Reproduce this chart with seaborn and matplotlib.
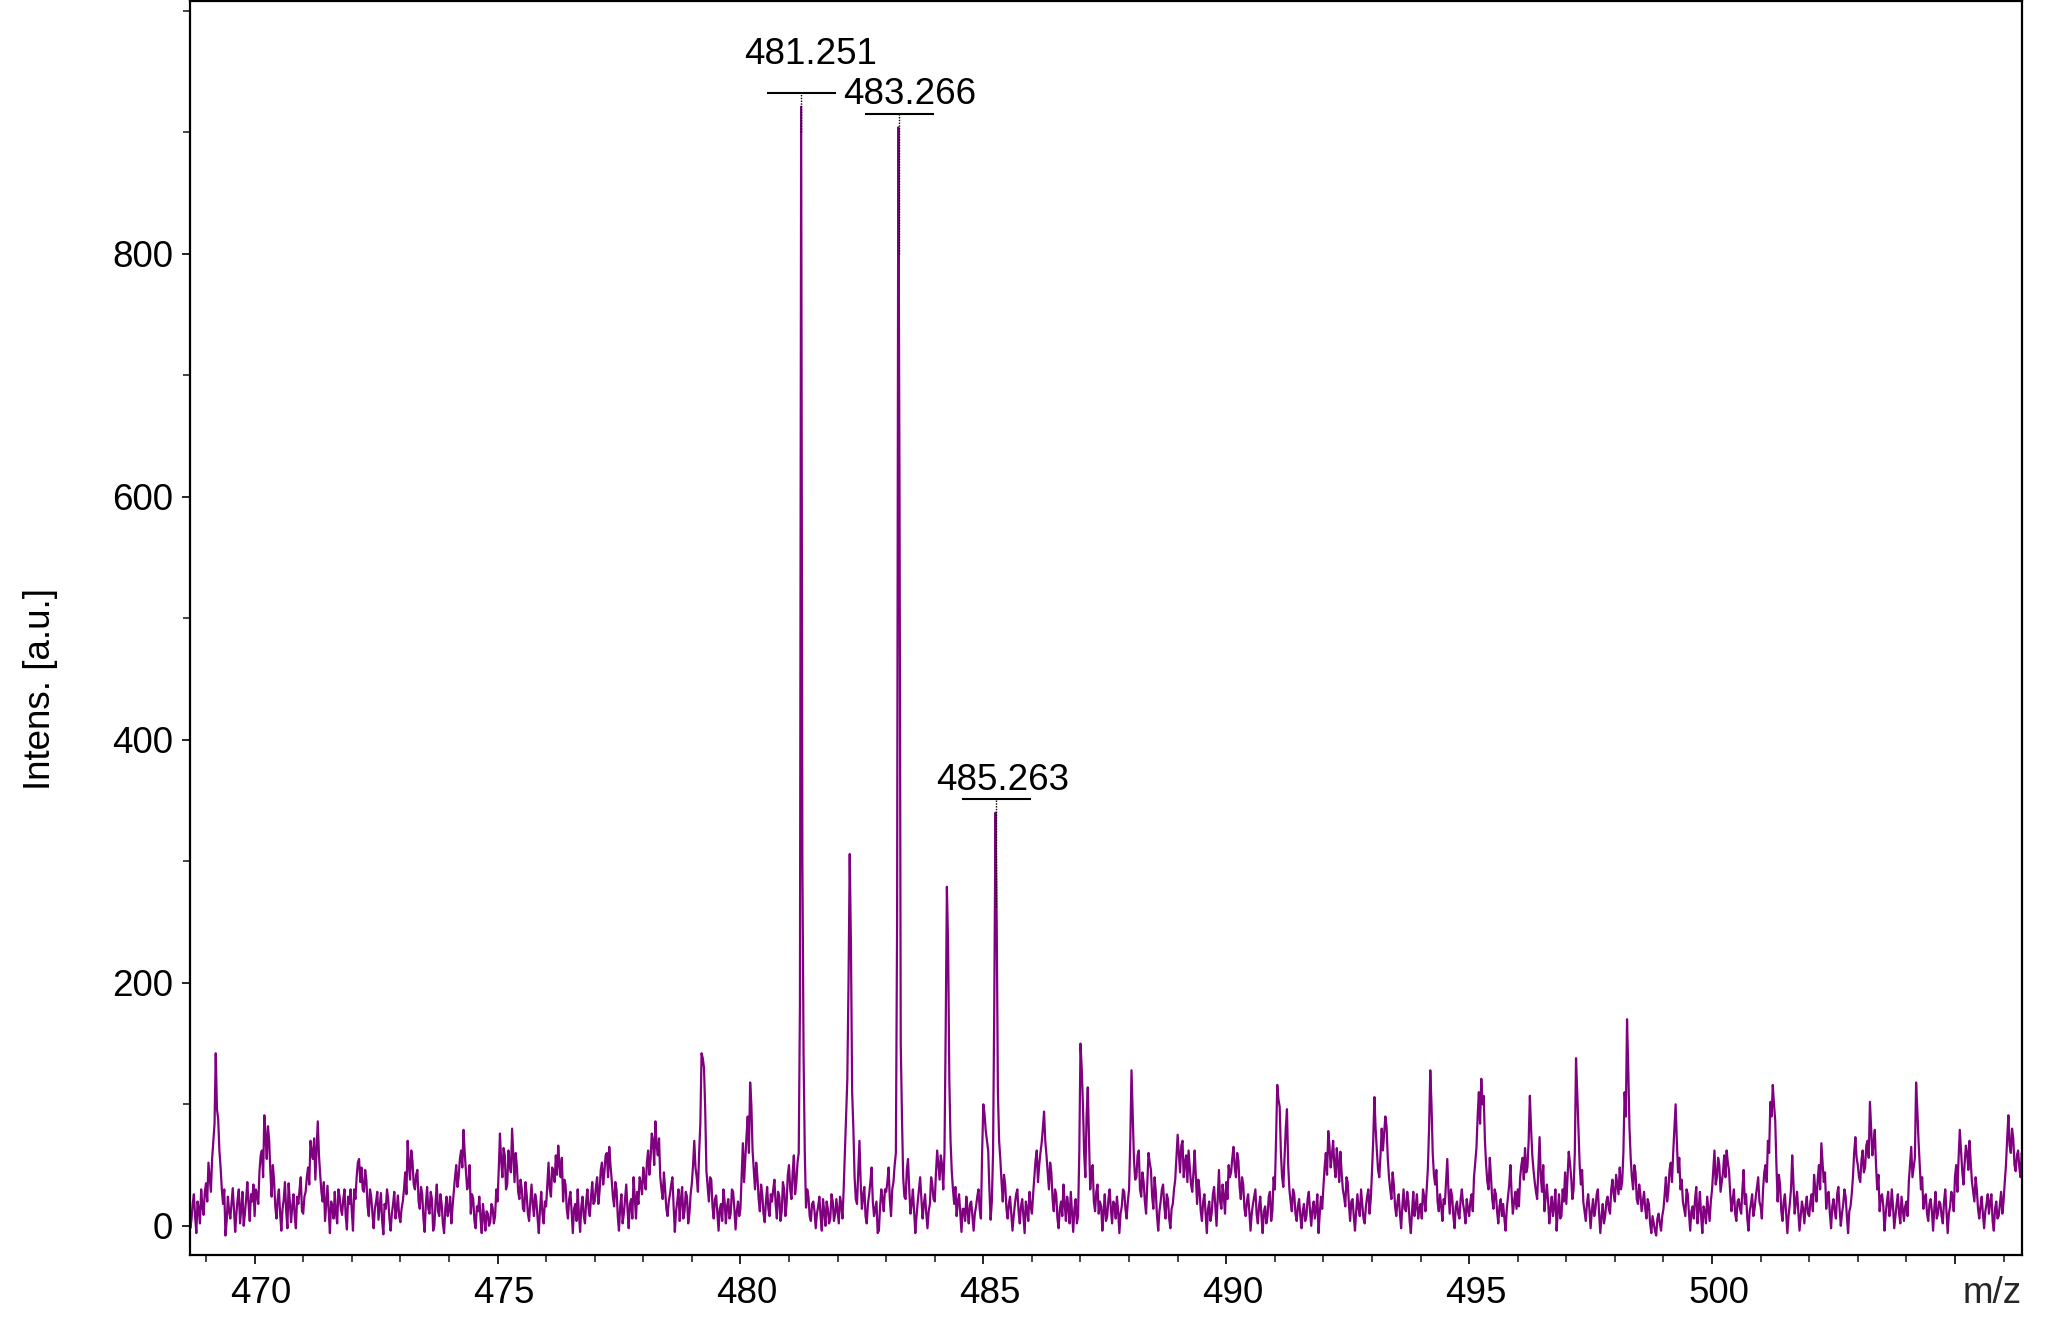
import numpy as np
import pandas as pd
import matplotlib.pyplot as plt
import matplotlib.transforms as mtrans
import seaborn as sns
from matplotlib.ticker import MultipleLocator, FixedLocator, FixedFormatter

# ---- Espectro: lecturas en m/z 468.65 .. 506.40 (paso 0.05) ----
MZ_START = 468.65
MZ_STEP = 0.05
INTENS = [
    22, 5, 26, -6, 14, 30, 9,
    35, 52, 28, 70, 142, 88, 48, 18, -8, 24, 6, 31, -5, 22, 2, 28, 10, 36, 4, 20,          # 469
    8, 26, 45, 62, 91, 55, 70, 24, 38, 6, 30, -4, 22, 12, 35, 3, 26, -2, 18, 40,            # 470
    10, 28, 48, 70, 55, 38, 86, 42, 20, 4, 33, -6, 16, 28, 2, 24, 9, 30, -3, 18,            # 471
    12, 30, 40, 55, 48, 28, 38, 8, 24, -2, 20, 5, 27, -7, 14, 22, -4, 18, 6, 25,            # 472
    3, 20, 44, 70, 38, 53, 30, 46, 14, 26, -5, 32, 10, 22, 0, 34, 8, 18, -6, 24,            # 473
    14, 2, 28, 50, 40, 62, 79, 45, 34, 10, 22, -2, 12, 6, 18, -4, 10, 3, 15, 8,             # 474
    20, 76, 40, 58, 34, 50, 80, 36, 48, 22, 30, 12, 26, 4, 34, 8, 20, -6, 28, 2,            # 475
    16, 52, 24, 45, 58, 66, 40, 20, 34, 6, 28, -6, 18, 30, -5, 24, 2, 30, 8, 36,            # 476
    20, 40, 28, 52, 44, 60, 65, 38, 16, 30, -4, 26, 10, 34, -2, 22, 40, 6, 18, 35,          # 477
    48, 30, 62, 55, 70, 86, 58, 40, 22, 30, 8, 26, 40, -5, 20, 4, 32, 12, 24, 10,           # 478
    35, 70, 40, 60, 142, 130, 45, 20, 38, 6, 25, -4, 18, 30, 2, 22, 10, 28, -3, 20,         # 479
    14, 68, 55, 90, 118, 62, 30, 40, 12, 26, 3, 32, 8, 20, 38, 6, 24, 12, 30, 18,           # 480
    50, 22, 58, 35, 60, 921, 140, 15, 24, 4, 20, -2, 16, 8, 22, 0, 14, 6, 20, 10,           # 481
    12, 24, 6, 60, 120, 306, 110, 40, 18, 70, 14, 32, 2, 26, 48, 8, 20, -4, 30, 12,         # 482
    28, 48, 8, 36, 60, 904, 150, 40, 22, 55, 10, 30, -6, 20, 40, 6, 26, -2, 18, 34,         # 483
    20, 62, 38, 50, 60, 279, 120, 45, 18, 8, 26, -5, 14, 24, 2, 20, -4, 16, 30, 6,          # 484
    100, 78, 62, 5, 60, 340, 110, 55, 20, 34, 6, 24, -4, 18, 30, 2, 22, -6, 14, 28,         # 485
    10, 40, 62, 50, 68, 94, 58, 30, 44, 12, 26, -2, 20, 34, 4, 16, 28, -5, 22, 8,           # 486
    150, 100, 40, 114, 30, 50, 12, 34, 20, -4, 26, 8, 30, 2, 18, 24, -6, 16, 28, 6,         # 487
    30, 128, 55, 40, 62, 24, 36, 10, 60, 46, 14, 28, -4, 20, 34, 6, 22, -2, 18, 38,         # 488
    75, 44, 70, 52, 36, 48, 28, 62, 18, 30, 4, 26, -6, 20, 10, 32, 0, 46, 14, 24,           # 489
    36, 50, 44, 65, 40, 54, 22, 34, 8, 26, -4, 18, 30, 2, 24, -6, 16, 8, 28, 12,            # 490
    30, 116, 98, 40, 55, 96, 30, 12, 26, 4, 22, -2, 18, 8, 28, 0, 20, 14, -6, 24,           # 491
    32, 60, 78, 48, 70, 40, 52, 61, 30, 16, 36, 4, 22, -4, 26, 8, 18, 2, 24, 10,            # 492
    44, 106, 62, 40, 80, 76, 82, 40, 22, 34, 8, 26, -2, 30, 12, 20, -6, 28, 16, 6,          # 493
    18, 30, 12, 47, 128, 60, 34, 20, 26, 4, 18, 55, 10, 24, -2, 20, 6, 30, 12, 22,          # 494
    8, 26, 40, 64, 110, 121, 107, 50, 30, 40, 14, 26, 2, 22, 18, -4, 24, 50, 10, 28,        # 495
    30, 40, 56, 64, 48, 107, 58, 36, 22, 73, 28, 12, 34, 2, 24, 16, -4, 26, 8, 20,          # 496
    18, 61, 40, 30, 138, 79, 34, 20, 4, 26, -2, 22, 14, 30, -6, 18, 8, 24, 10, 38,          # 497
    20, 34, 48, 36, 110, 170, 81, 40, 50, 22, 34, 12, 28, 6, 18, -6, 2, -8, 10, -4,         # 498
    14, 40, 28, 52, 60, 100, 44, 30, 20, 8, 26, -4, 16, 22, 2, 28, -6, 12, 24, 4,           # 499
    30, 62, 40, 50, 36, 58, 62, 45, 12, 30, 4, 22, 10, 46, 26, -4, 18, 8, 24, 40,           # 500
    16, 30, 50, 70, 102, 116, 87, 20, 34, 4, 26, -6, 18, 58, 10, 28, -4, 20, 2, 24,         # 501
    8, 26, 42, 20, 50, 68, 36, 14, 28, -2, 22, 6, 32, 0, 18, 24, -6, 16, 40, 73,            # 502
    50, 36, 62, 48, 70, 102, 58, 79, 30, 12, 26, -4, 20, 8, 30, -2, 18, 10, 24, 4,          # 503
    20, 36, 65, 48, 118, 70, 30, 14, 26, 4, 22, -4, 28, 10, 18, 2, 30, -6, 16, 24,          # 504
    40, 28, 79, 45, 52, 60, 70, 36, 20, 30, 6, 24, -2, 18, 10, 26, -4, 20, 8, 28,           # 505
    20, 50, 91, 60, 72, 45, 62, 40, 55,                                                     # 506
]
# lecturas intermedias (m/z + 0.025)
INTENS_MID = [
    -2, 18, 8, 20, 2, 16, 28,
    20, 40, 55, 84, 96, 62, 30, 30, 4, 12, 18, 14, 10, 30, 14, 0, 22, 18, 26, 34,          # 469
    30, 18, 58, 40, 74, 82, 44, 50, 16, 22, 10, 14, 36, -2, 20, 16, 8, 24, 30, 12,          # 470
    24, 40, 34, 60, 72, 62, 58, 28, 36, 18, 12, 20, 6, 10, 30, 14, 22, 8, 24, 30,           # 471
    -4, 22, 52, 36, 30, 46, 16, 30, 10, 14, 28, 16, 4, 18, 30, 6, 10, 28, 14, 8,            # 472
    14, 30, 26, 50, 62, 34, 42, 20, 32, 6, 18, 14, 28, -4, 20, 12, 26, 2, 14, 8,            # 473
    24, 16, 40, 32, 55, 48, 60, 30, 50, 26, 4, 16, 24, -6, 8, 12, 0, 18, 2, 30,             # 474
    46, 54, 64, 30, 62, 44, 58, 60, 28, 38, 14, 36, 10, 20, 18, 26, 6, 14, 10, 20,          # 475
    34, 30, 48, 36, 42, 50, 56, 38, 14, 22, 12, 14, 4, 10, 16, 8, 20, 14, 24, 18,           # 476
    32, 18, 46, 34, 58, 40, 50, 24, 36, 8, 16, 2, 22, 14, 18, 6, 24, 28, 40, 26,            # 477
    38, 52, 42, 76, 50, 66, 72, 30, 44, 14, 20, 34, 16, 12, 30, 22, 6, 28, 2, 26,           # 478
    50, 48, 28, 84, 138, 96, 32, 40, 16, 22, 10, 14, 4, 20, 16, 6, 30, 14, 12, 8,           # 479
    40, 36, 74, 60, 100, 46, 52, 22, 34, 10, 20, 14, 26, 30, 18, 28, 4, 36, 8, 42,          # 480
    30, 44, 26, 52, 180, 300, 60, 30, 8, 18, 12, 10, 24, -4, 12, 20, 2, 26, 4, 22,          # 481
    2, 18, 30, 90, 200, 230, 80, 22, 44, 36, 24, 8, 18, 36, 20, 14, -6, 16, 22, 30,         # 482
    36, 22, 30, 50, 250, 600, 90, 24, 46, 30, 18, 12, 8, 30, 22, 18, 10, 12, 40, 22,        # 483
    44, 50, 58, 30, 160, 230, 70, 30, 32, 20, 10, 14, 4, 12, 18, 8, 10, 24, 14, 60,         # 484
    92, 70, 30, 20, 180, 250, 70, 36, 42, 14, 18, 10, 8, 26, 12, 16, 8, 20, 4, 16,          # 485
    26, 54, 36, 60, 80, 70, 44, 52, 22, 30, 6, 14, 8, 18, 24, 2, 12, 14, 2, 60,             # 486
    130, 60, 90, 70, 46, 20, 28, 10, 16, 12, 4, 22, 14, 20, 6, 12, 10, 30, 14, 20,          # 487
    70, 90, 38, 58, 30, 44, 20, 34, 52, 24, 40, 8, 12, 30, 16, 26, 6, 14, 30, 56,           # 488
    60, 66, 40, 58, 62, 34, 44, 40, 38, 12, 20, 10, 14, 4, 26, 16, 22, 20, 34, 10,          # 489
    22, 40, 56, 48, 60, 32, 40, 14, 20, 12, 10, 24, 10, 16, 8, 12, 2, 24, 4, 40,            # 490
    70, 104, 60, 32, 80, 50, 20, 30, 10, 16, 8, 12, 4, 22, 12, 14, 6, 26, 10, 14,           # 491
    48, 42, 66, 58, 50, 64, 36, 44, 24, 40, 18, 20, 8, 12, 14, 30, 6, 16, 30, 22,           # 492
    70, 80, 46, 58, 62, 90, 56, 30, 44, 16, 20, 10, 16, 14, 28, 4, 12, 8, 26, 14,           # 493
    6, 24, 30, 80, 100, 42, 46, 12, 16, 22, 36, 28, 30, 8, 16, 10, 22, 18, 2, 14,           # 494
    20, 12, 52, 90, 84, 100, 70, 36, 56, 22, 30, 12, 16, 8, 6, 14, 34, 26, 20, 14,          # 495
    16, 50, 38, 44, 70, 80, 46, 28, 48, 40, 50, 24, 20, 14, 8, 30, 12, 6, 30, 44,           # 496
    40, 52, 22, 60, 110, 50, 46, 12, 18, 14, 12, 8, 26, 10, 8, 2, 20, 14, 30, 26,           # 497
    42, 26, 30, 60, 90, 130, 56, 30, 44, 18, 26, 20, 14, 22, 2, 8, -4, 6, 2, 8,             # 498
    26, 20, 46, 36, 80, 70, 56, 38, 14, 30, 10, 12, 6, 32, 14, 8, 16, 2, 14, 20,            # 499
    46, 34, 56, 28, 44, 40, 52, 26, 22, 10, 20, 14, 30, 18, 6, 12, 26, 14, 32, 20,          # 500
    6, 44, 36, 60, 90, 100, 50, 42, 12, 20, 10, 8, 30, 36, 20, 12, 8, 14, 16, 10,           # 501
    20, 12, 30, 38, 30, 52, 44, 26, 10, 16, 12, 26, 14, 10, 30, 8, 12, 26, 60, 56,          # 502
    40, 54, 44, 66, 56, 80, 68, 50, 42, 24, 16, 10, 28, 14, 16, 8, 26, 2, 14, 16,           # 503
    8, 50, 40, 56, 96, 50, 40, 22, 10, 18, 12, 14, 6, 20, 8, 20, 12, 10, 28, 12,            # 504
    50, 56, 62, 34, 66, 46, 52, 28, 40, 14, 16, 10, 12, 26, 20, 4, 14, 6, 18, 10,           # 505
    36, 72, 66, 80, 50, 58, 48, 60, 40,                                                     # 506
]

# ---- Picos etiquetados ----
PEAK_MZ = [481.251, 483.266, 485.263]
PEAK_INT = [921, 904, 340]
PEAK_TXT = ["481.251", "483.266", "485.263"]
DOT_BOTTOM = [900, 800, 262]

XTICKS = [470, 475, 480, 485, 490, 495, 500, 505]
XTICKLABELS = ["470", "475", "480", "485", "490", "495", "500", ""]
YTICKS = [0, 200, 400, 600, 800]

mz = MZ_START + MZ_STEP * np.arange(len(INTENS))
df = pd.concat([
    pd.DataFrame({"mz": mz, "intens": INTENS}),
    pd.DataFrame({"mz": mz + MZ_STEP / 2, "intens": INTENS_MID}),
]).sort_values("mz")

sns.set_theme(style="ticks")
plt.rcParams["font.family"] = ["Liberation Sans", "DejaVu Sans"]
FS = 26.5

fig = plt.figure(figsize=(20.48, 13.33), dpi=100)
ax = fig.add_axes([190 / 2048, 1 - 1255 / 1333, 1832 / 2048, 1254 / 1333])

sns.lineplot(data=df, x="mz", y="intens", color="#800080", linewidth=1.6,
             estimator=None, sort=False, ax=ax)

# etiquetas de picos
gap = 11
for pmz, pint, txt, bot, dx, dy in zip(PEAK_MZ, PEAK_INT, PEAK_TXT, DOT_BOTTOM,
                                       [7, 7.5, 4.5], [21, 7, 7]):
    top = pint + gap
    ax.hlines(top, pmz - 0.71, pmz + 0.71, color="black", linewidth=1.5)
    ax.vlines(pmz, bot, top, color="black", linewidth=1.0, linestyles=(0, (1, 1)))
    ax.annotate(txt, (pmz, top), xytext=(dx, dy), textcoords="offset points",
                ha="center", va="baseline", fontsize=FS, color="black")

ax.set_xlim(468.67, 506.38)
ax.set_ylim(-24, 1008)
ax.xaxis.set_major_locator(FixedLocator(XTICKS))
ax.xaxis.set_major_formatter(FixedFormatter(XTICKLABELS))
ax.xaxis.set_minor_locator(MultipleLocator(1))
ax.set_yticks(YTICKS)
ax.yaxis.set_minor_locator(MultipleLocator(100))

ax.tick_params(axis="x", which="major", direction="out", length=6.5, width=1.2,
               pad=8.5, labelsize=FS, colors="black")
ax.tick_params(axis="x", which="minor", direction="out", length=4.8, width=1.2)
ax.tick_params(axis="y", which="major", direction="out", length=6, width=1.2,
               pad=6, labelsize=FS, colors="black")
ax.tick_params(axis="y", which="minor", direction="out", length=5, width=1.2)

offset = mtrans.ScaledTranslation(6.5 / 100, 0, fig.dpi_scale_trans)
for lab in ax.get_xticklabels():
    lab.set_transform(lab.get_transform() + offset)

for sp in ax.spines.values():
    sp.set_color("black")
    sp.set_linewidth(1.6)

ax.set_xlabel("")
ax.set_ylabel("Intens. [a.u.]", fontsize=FS, color="black")
ax.yaxis.set_label_coords(-0.072, 0.451)
ax.annotate("m/z", xy=(1, 0), xycoords="axes fraction", xytext=(0, -15),
            textcoords="offset points", ha="right", va="top", fontsize=FS)

fig.savefig("out.png", dpi=100, facecolor="white")
